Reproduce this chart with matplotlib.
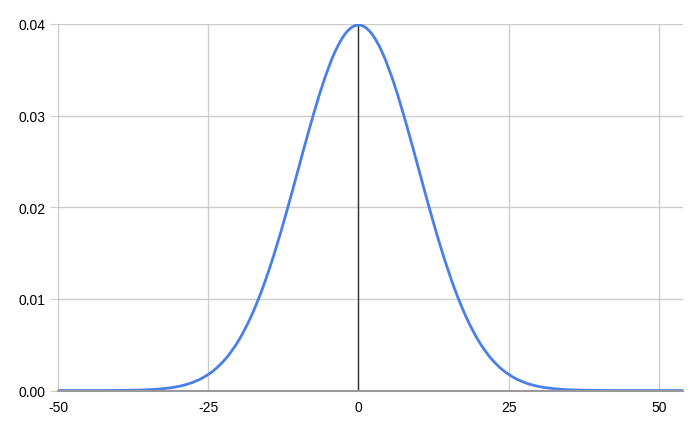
import matplotlib
matplotlib.use('Agg')
import matplotlib.pyplot as plt
from matplotlib.path import Path
from matplotlib.patches import PathPatch

# points (x, density)
x_vals = [-50, -48, -46, -44, -42, -40, -38, -36, -34, -32, -30, -28, -26, -24, -22,
          -20, -18, -16, -14, -12, -10, -8, -6, -4, -2, 0,
          2, 4, 6, 8, 10, 12, 14, 16, 18, 20, 22, 24, 26, 28, 30,
          32, 34, 36, 38, 40, 42, 44, 46, 48, 50, 52, 54]
y_vals = [0.0, 0.0, 0.0, 0.0, 0.0, 0.00001, 0.00003, 0.00006, 0.00012, 0.00024, 0.00044,
          0.00079, 0.00136, 0.00224, 0.00355, 0.0054, 0.0079, 0.01109, 0.01497, 0.01942,
          0.0242, 0.02897, 0.03332, 0.03683, 0.0391, 0.03989,
          0.0391, 0.03683, 0.03332, 0.02897, 0.0242, 0.01942, 0.01497, 0.01109, 0.0079,
          0.0054, 0.00355, 0.00224, 0.00136, 0.00079, 0.00044, 0.00024, 0.00012, 0.00006,
          0.00003, 0.00001, 0.0, 0.0, 0.0, 0.0, 0.0, 0.0, 0.0]
x_ticks = [-50, -25, 0, 25, 50]
y_ticks = [0.00, 0.01, 0.02, 0.03, 0.04]

plt.rcParams['font.family'] = ['Liberation Sans', 'DejaVu Sans']

fig = plt.figure(figsize=(7, 4.27), dpi=100)
ax = fig.add_axes([0.0829, 0.0831, 0.8928, 0.8584])

# smooth line through the points (catmull-rom as bezier segments)
pts = list(zip(x_vals, y_vals))
verts = [pts[0]]
codes = [Path.MOVETO]
n = len(pts)
for i in range(n - 1):
    p0 = pts[i - 1] if i > 0 else pts[i]
    p1 = pts[i]
    p2 = pts[i + 1]
    p3 = pts[i + 2] if i + 2 < n else pts[i + 1]
    c1 = (p1[0] + (p2[0] - p0[0]) / 6, p1[1] + (p2[1] - p0[1]) / 6)
    c2 = (p2[0] - (p3[0] - p1[0]) / 6, p2[1] - (p3[1] - p1[1]) / 6)
    verts += [c1, c2, p2]
    codes += [Path.CURVE4] * 3
ax.add_patch(PathPatch(Path(verts, codes), fill=False, edgecolor='#4a7fe9', lw=2,
                       capstyle='round', joinstyle='round', zorder=3))

ax.axvline(0, color='#333333', lw=1, zorder=2)

ax.set_xlim(-50, 54)
ax.set_ylim(0, 0.04)
ax.set_xticks(x_ticks)
ax.set_xticklabels([str(t) for t in x_ticks])
ax.set_yticks(y_ticks)
ax.set_yticklabels(['%.2f' % t for t in y_ticks])

ax.grid(True, color='#cccccc', lw=1)
ax.set_axisbelow(True)
for s in ['top', 'right', 'left']:
    ax.spines[s].set_visible(False)
ax.spines['bottom'].set_color('#999999')
ax.spines['bottom'].set_linewidth(1.5)
ax.spines['bottom'].set_zorder(4)

ax.tick_params(axis='y', length=6, color='#cccccc', labelsize=10, pad=3)
ax.tick_params(axis='x', length=0, labelsize=10, pad=7)

fig.savefig('out.png', dpi=100)
